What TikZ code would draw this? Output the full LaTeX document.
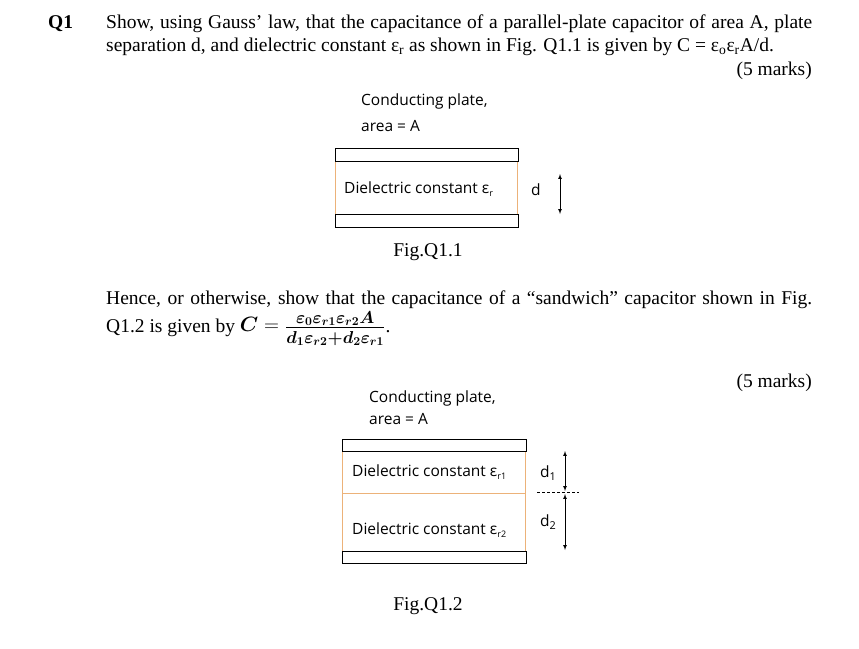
\documentclass[tikz,border=0pt]{standalone}
\usepackage{fontspec}
\usepackage{amsmath}
\usepackage{graphicx}
\setmainfont{Liberation Serif}
\newfontfamily\figfont{Open Sans}
\tikzset{
  txt/.style={anchor=base west,inner sep=0,font=\fontsize{19.5}{21}\selectfont},
  fig/.style={anchor=west,inner sep=0,font=\figfont\fontsize{15.5}{17}\selectfont},
  plate/.style={draw,line width=1.3pt},
  diel/.style={draw=orange!50!brown!60,line width=0.6pt},
  dim/.style={-latex,line width=0.7pt}
}
\newcommand{\epsr}[1]{ε\raisebox{-0.35ex}{\fontsize{9}{10}\selectfont r#1}}
\begin{document}
\begin{tikzpicture}[x=1pt,y=-1pt]
\useasboundingbox (0,0) rectangle (859,648);
\node[txt,font=\bfseries\fontsize{19.5}{21}\selectfont] (q) at (48,28) {Q1};
\node[txt] (l1) at (106,28) {\makebox[706pt][s]{Show, using Gauss’ law, that the capacitance of a parallel-plate capacitor of area A, plate}};
\node[txt] (l2) at (106,51) {separation d, and dielectric constant ε\textsubscript{r} as shown in Fig. Q1.1 is given by C = ε\textsubscript{o}ε\textsubscript{r}A/d.};
\node[txt,anchor=base east] (m1) at (812,75) {(5 marks)};
\node[fig] (c1) at (361,101) {Conducting plate,};
\node[fig] (a1) at (361,126) {area = A};
\draw[diel] (335,161) rectangle (517,214);
\node[plate,minimum width=183pt,minimum height=13pt,inner sep=0,anchor=north west] (p1) at (335,148) {};
\node[plate,minimum width=183pt,minimum height=13pt,inner sep=0,anchor=north west] (p2) at (335,214) {};
\node[fig] (t1) at (344,189) {Dielectric constant \epsr{}};
\node[fig] (d) at (531,190) {d};
\coordinate (u1) at (560,174); \coordinate (b1) at (560,214);
\draw[dim,latex-latex] (u1) -- (b1);
\node[txt,anchor=base] (f1) at (428,256) {Fig.Q1.1};
\node[txt] (h1) at (106,304) {\makebox[706pt][s]{Hence, or otherwise, show that the capacitance of a “sandwich” capacitor shown in Fig.}};
\node[txt] (h2) at (106,332) {Q1.2 is given by \raisebox{0.1ex}{$\boldsymbol{C} = \raisebox{-0.3ex}{\scalebox{1.2}{$\boldsymbol{\frac{\varepsilon_0\varepsilon_{r1}\varepsilon_{r2}A}{d_1\varepsilon_{r2}+d_2\varepsilon_{r1}}}$}}$}.};
\node[txt,anchor=base east] (m2) at (812,387) {(5 marks)};
\node[fig] (c2) at (369,398) {Conducting plate,};
\node[fig] (a2) at (369,419) {area = A};
\draw[diel] (342,451) rectangle (525,551);
\draw[diel] (342,493) -- (525,493);
\node[plate,minimum width=184pt,minimum height=12pt,inner sep=0,anchor=north west] (p3) at (342,439) {};
\node[plate,minimum width=184pt,minimum height=12pt,inner sep=0,anchor=north west] (p4) at (342,551) {};
\node[fig] (t2) at (352,472) {Dielectric constant \epsr{1}};
\node[fig] (t3) at (352,530) {Dielectric constant \epsr{2}};
\node[fig] (d1) at (540,473) {d\textsubscript{1}};
\node[fig] (d2) at (540,522) {d\textsubscript{2}};
\coordinate (u2) at (565,451); \coordinate (m2a) at (565,491);
\coordinate (m2b) at (565,494); \coordinate (b2) at (565,550);
\coordinate (dl) at (537,492); \coordinate (dr) at (579,492);
\draw[dim,latex-latex] (u2) -- (m2a);
\draw[dim,latex-latex] (m2b) -- (b2);
\draw[densely dashed,line width=0.4pt] (dl) -- (dr);
\node[txt,anchor=base] (f2) at (428,610) {Fig.Q1.2};
\end{tikzpicture}
\end{document}
